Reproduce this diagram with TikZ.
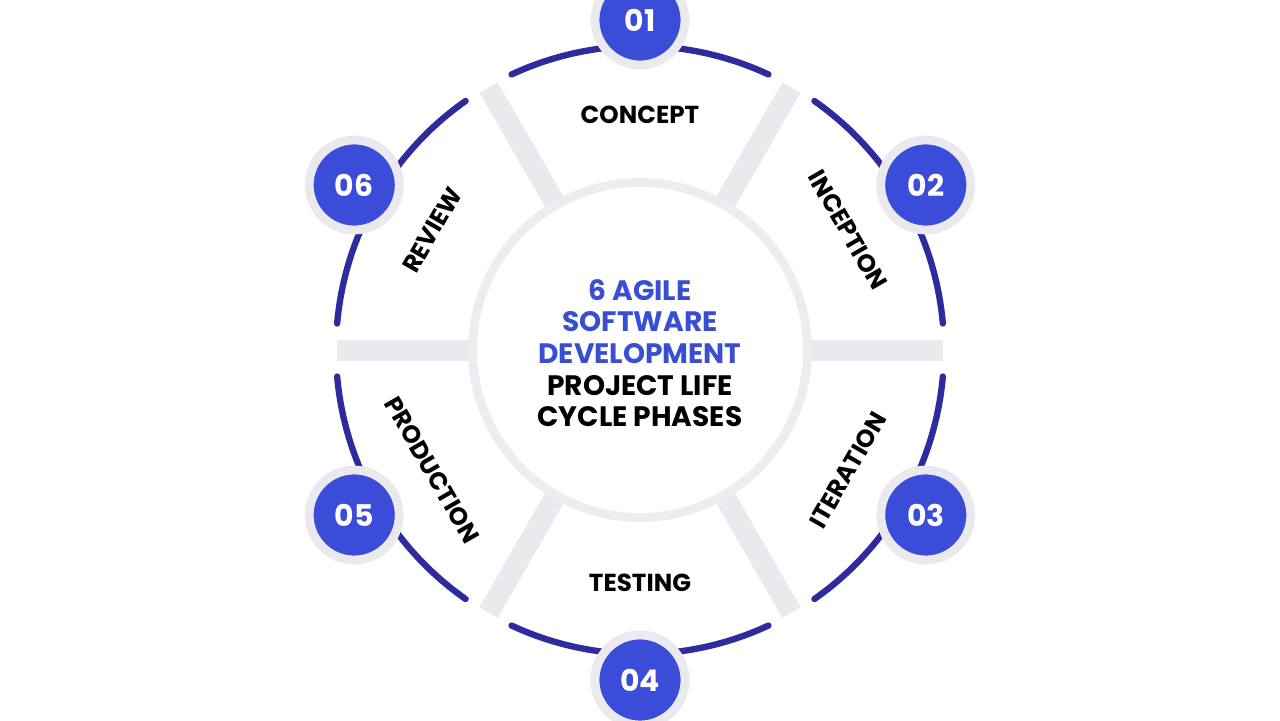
\documentclass[tikz,border=0pt]{standalone}
\usepackage{fontspec}
\setmainfont{Poppins}
\usetikzlibrary{positioning}
\definecolor{badgeblue}{HTML}{3B4CD8}
\definecolor{rimblue}{HTML}{2E2B9C}
\definecolor{titleblue}{HTML}{3A4ED2}
\definecolor{glow}{HTML}{E9E9EE}

\begin{document}
\begin{tikzpicture}[
    x=0.02cm, y=0.02cm,
    badge/.style={circle, fill=badgeblue, draw=glow, line width=5pt, minimum size=1.8cm, text=white, font=\fontsize{17}{20}\selectfont\bfseries},
    phase/.style={font=\fontsize{14}{16}\selectfont\bfseries, text=black},
    rim/.style={draw=rimblue, line width=3.6pt, line cap=round},
    gap/.style={draw=glow, line width=0.42cm}
  ]
    \useasboundingbox[fill=white] (-640,-370) rectangle (640,350);

    % six segments with blue rims
    \foreach \a in {90,30,-30,-90,-150,150}{
      \fill[white] (0,0) -- (\a-30:300) arc (\a-30:\a+30:300) -- cycle;
      \draw[rim] (\a-25:304) arc (\a-25:\a+25:304);
    }
    % gaps between segments
    \foreach \g in {0,60,...,300}
      \draw[gap] (\g:160) -- (\g:303);

    % centre disc
    \node[circle, fill=white, draw=glow!80, line width=5pt, minimum size=6.7cm] (hub) at (0,0) {};
    \node[align=center, font=\fontsize{16}{18}\selectfont\bfseries] (title) at (0,-3)
      {\textcolor{titleblue}{6 AGILE}\\\textcolor{titleblue}{SOFTWARE}\\\textcolor{titleblue}{DEVELOPMENT}\\PROJECT LIFE\\CYCLE PHASES};

    % phase labels
    \node[phase] (concept) at (90:235) {CONCEPT};
    \node[phase, rotate=-60] (inception) at (30:240) {INCEPTION};
    \node[phase, rotate=60] (iteration) at (-30:240) {ITERATION};
    \node[phase] (testing) at (-90:233) {TESTING};
    \node[phase, rotate=-60] (production) at (-150:240) {PRODUCTION};
    \node[phase, rotate=60] (review) at (150:240) {REVIEW};

    % numbered badges
    \node[badge] (b1) at (90:330) {01};
    \node[badge] (b2) at (30:330) {02};
    \node[badge] (b3) at (-30:330) {03};
    \node[badge] (b4) at (-90:330) {04};
    \node[badge] (b5) at (-150:330) {05};
    \node[badge] (b6) at (150:330) {06};
  \end{tikzpicture}
\end{document}
